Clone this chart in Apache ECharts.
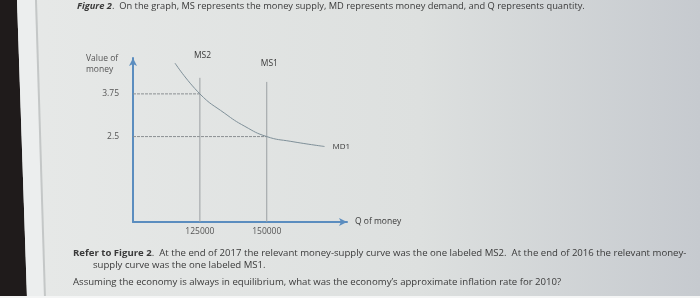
<!DOCTYPE html>
<html lang="en">
<head>
    <meta charset="UTF-8">
    <title>Figure 2</title>
    <script src="https://cdn.jsdelivr.net/npm/echarts@6/dist/echarts.min.js"></script>
</head>
<style>
    html, body { margin: 0; padding: 0; }
    #chart { width: 700px; height: 298px; }
</style>
<body>
<div id="chart"></div>
<script type="text/javascript">
    // values
    var yTicks = [2.5, 3.75];
    var xTicks = [125000, 150000];
    var ms2 = [[125000, 0], [125000, 4.22]];
    var ms1 = [[150000, 0], [150000, 4.1]];
    var md1 = [[115700, 4.65], [125000, 3.75], [134300, 3.18], [141800, 2.8],
               [150000, 2.5], [159000, 2.36], [171600, 2.21]];
    var guide375 = [[100000, 3.75], [125000, 3.75]];
    var guide25 = [[100000, 2.5], [150000, 2.5]];

    var chart = echarts.init(document.getElementById('chart'));
    var txt = '#3a3a3a';
    var font = 'Open Sans';

    var option = {
        backgroundColor: new echarts.graphic.LinearGradient(0, 0, 1, 0, [
            {offset: 0, color: '#e7e9e8'},
            {offset: 0.6, color: '#dde0df'},
            {offset: 1, color: '#c6cacf'}
        ]),
        textStyle: {fontFamily: font},
        animation: false,
        grid: {left: 133, top: 58, right: 353, bottom: 76},
        xAxis: {
            type: 'value',
            min: 100000,
            max: 180000,
            name: 'Q of money',
            nameGap: 8,
            nameTextStyle: {color: txt, fontSize: 8.5, fontFamily: font},
            splitLine: {show: false},
            axisTick: {show: false},
            axisLine: {
                symbol: ['none', 'arrow'],
                symbolSize: [6, 8],
                lineStyle: {color: '#5b8dbf', width: 2}
            },
            axisLabel: {
                customValues: xTicks,
                formatter: function (v) { return String(v); },
                color: '#555',
                fontSize: 8.5,
                margin: 5
            }
        },
        yAxis: {
            type: 'value',
            min: 0,
            max: 4.8,
            splitLine: {show: false},
            axisTick: {show: false},
            axisLine: {
                symbol: ['none', 'arrow'],
                symbolSize: [6, 8],
                lineStyle: {color: '#5b8dbf', width: 2}
            },
            axisLabel: {
                customValues: yTicks,
                color: '#555',
                fontSize: 8.5,
                margin: 14
            }
        },
        series: [
            {
                type: 'line', data: guide375, symbol: 'none', silent: true,
                lineStyle: {color: '#8a8f92', width: 1, type: [3, 1]}
            },
            {
                type: 'line', data: guide25, symbol: 'none', silent: true,
                lineStyle: {color: '#8a8f92', width: 1, type: [3, 1]}
            },
            {
                type: 'line', data: ms2, symbol: 'none',
                lineStyle: {color: '#9a9fa2', width: 1},
                endLabel: {show: true, formatter: 'MS2', color: txt, fontSize: 8.5,
                    offset: [-14, -22]}
            },
            {
                type: 'line', data: ms1, symbol: 'none',
                lineStyle: {color: '#9a9fa2', width: 1},
                endLabel: {show: true, formatter: 'MS1', color: txt, fontSize: 8.5,
                    offset: [-14, -18]}
            },
            {
                type: 'line', data: md1, symbol: 'none', smooth: 0.5,
                lineStyle: {color: '#7f9099', width: 1},
                endLabel: {show: true, formatter: 'MD1', color: txt, fontSize: 8,
                    distance: 8}
            }
        ],
        graphic: [
            {type: 'polygon', shape: {points: [[0, 0], [17, 0], [27, 298], [0, 298]]},
                style: {fill: '#1f1b1b'}, silent: true},
            {type: 'polygon', shape: {points: [[17, 0], [35, 0], [45, 298], [27, 298]]},
                style: {fill: '#eceeee'}, silent: true},
            {type: 'line', shape: {x1: 36, y1: 0, x2: 45, y2: 298},
                style: {stroke: '#c4c7c7', lineWidth: 2}, silent: true},
            {type: 'rect', shape: {x: 0, y: 296, width: 700, height: 2},
                style: {fill: '#f4f5f5'}, silent: true},
            {
                type: 'text', left: 77, top: 2,
                style: {
                    text: '{b|Figure 2}.  On the graph, MS represents the money supply, MD represents money demand, and Q represents quantity.',
                    fill: txt, fontSize: 9.3, fontFamily: font,
                    rich: {b: {fontWeight: 'bold', fontStyle: 'italic', fontSize: 9.3, fill: txt, fontFamily: font}}
                }
            },
            {
                type: 'text', left: 86, top: 53,
                style: {text: 'Value of\nmoney', fill: '#555', fontSize: 8.5, lineHeight: 11, fontFamily: font}
            },
            {
                type: 'text', left: 73, top: 248,
                style: {
                    text: '{b|Refer to Figure 2}.  At the end of 2017 the relevant money-supply curve was the one labeled MS2.  At the end of 2016 the relevant money-',
                    fill: txt, fontSize: 9.6, fontFamily: font,
                    rich: {b: {fontWeight: 'bold', fontSize: 9.6, fill: txt, fontFamily: font}}
                }
            },
            {
                type: 'text', left: 93, top: 260,
                style: {text: 'supply curve was the one labeled MS1.', fill: txt, fontSize: 9.6, fontFamily: font}
            },
            {
                type: 'text', left: 73, top: 277,
                style: {text: 'Assuming the economy is always in equilibrium, what was the economy\u2019s approximate inflation rate for 2010?',
                    fill: txt, fontSize: 9.6, fontFamily: font}
            }
        ]
    };
    chart.setOption(option);
</script>
</body>
</html>
